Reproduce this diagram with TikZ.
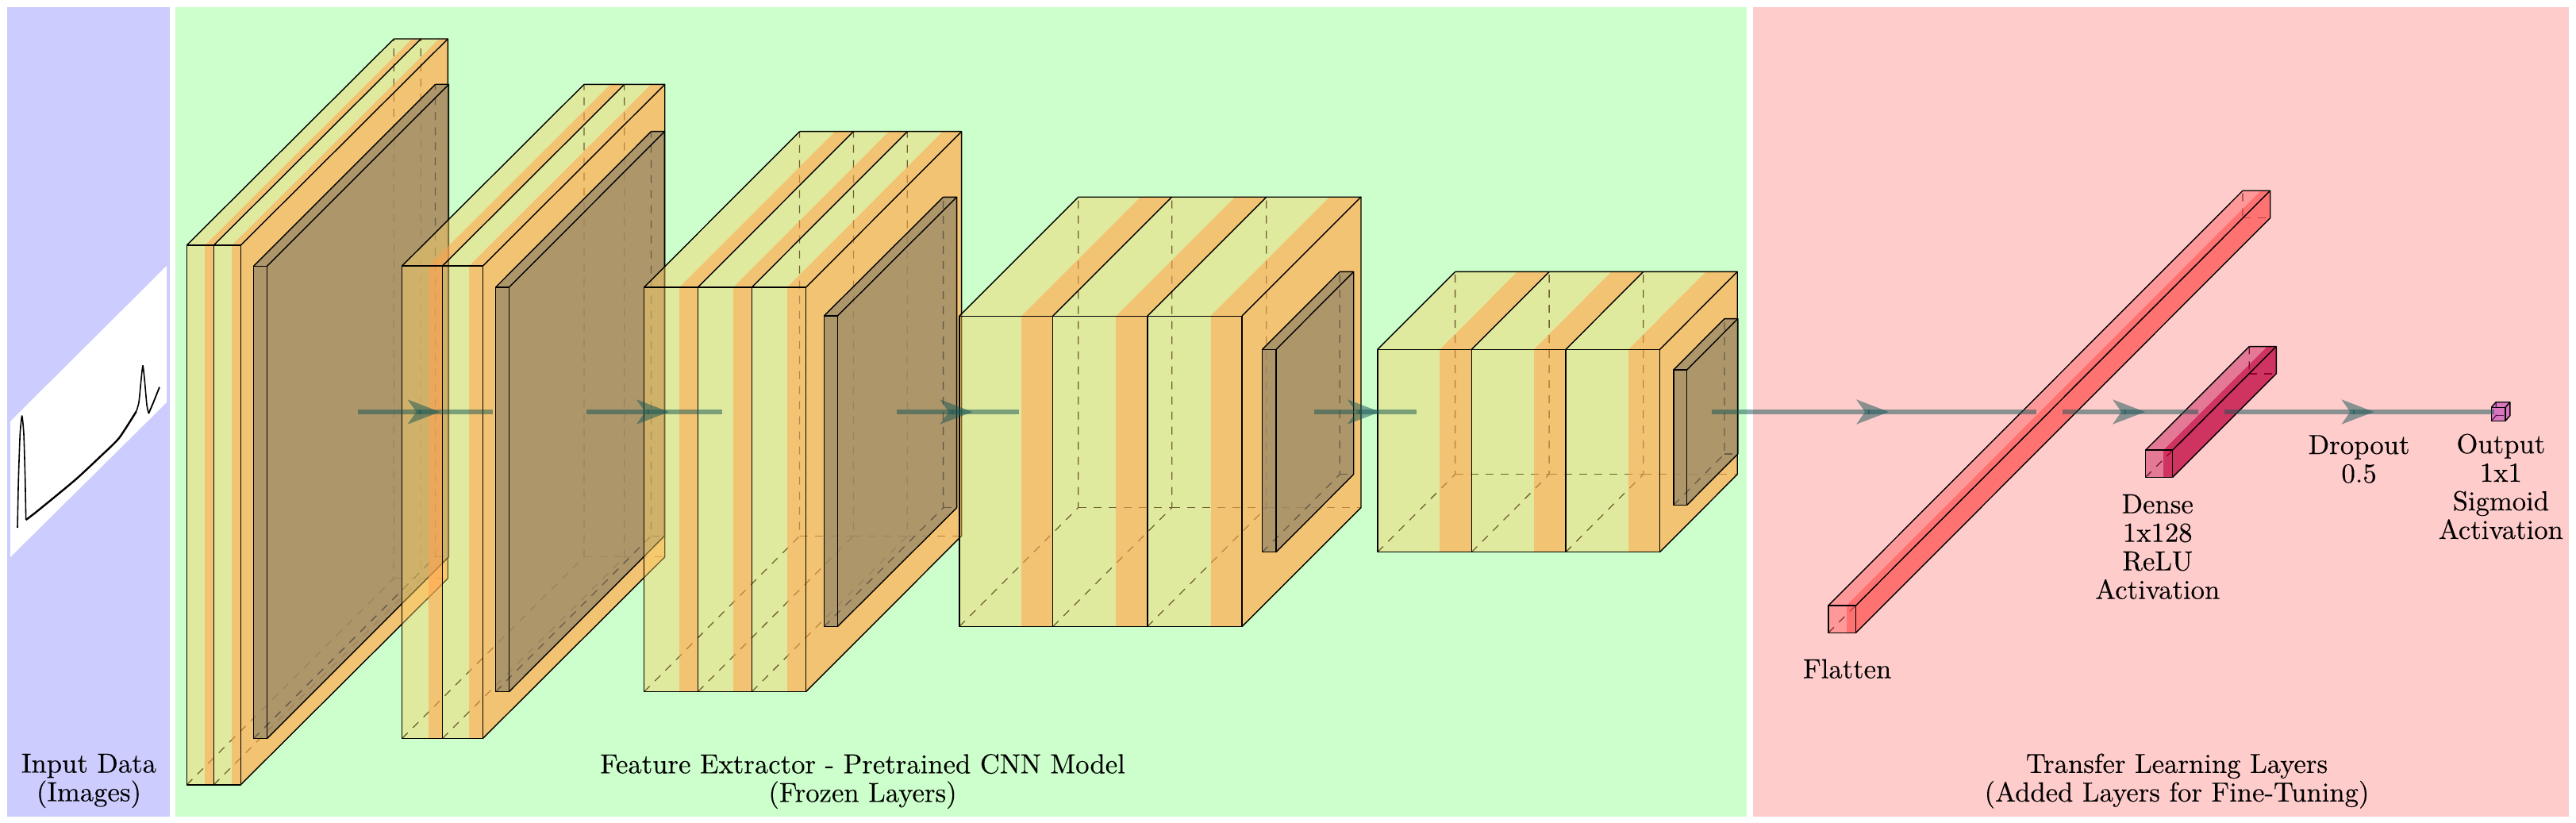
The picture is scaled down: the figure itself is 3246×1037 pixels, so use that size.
\documentclass[tikz,border=0pt]{standalone}
\usepackage{fontspec}
\setmainfont{Latin Modern Roman}[FakeBold=0.18]
\usetikzlibrary{calc}
\definecolor{panelblue}{RGB}{204,204,255}
\definecolor{panelgreen}{RGB}{204,255,204}
\definecolor{panelred}{RGB}{255,204,204}
\definecolor{conncol}{RGB}{21,85,85}
\tikzset{
  panel/.style={draw=none},
  outline/.style={draw=black,line width=0.42pt,line join=round},
  hidden/.style={draw=black,line width=0.38pt,dash pattern=on 3pt off 2.7pt},
  convA/.style={fill={rgb,255:red,250;green,210;blue,105},fill opacity=.45},
  convB/.style={fill={rgb,255:red,255;green,175;blue,85},fill opacity=.75},
  poolA/.style={fill={rgb,255:red,145;green,131;blue,104},fill opacity=.7},
  flatA/.style={fill={rgb,255:red,255;green,102;blue,102},fill opacity=.5},
  flatB/.style={fill={rgb,255:red,255;green,85;blue,85},fill opacity=.75},
  denseA/.style={fill={rgb,255:red,203;green,40;blue,96},fill opacity=.5},
  denseB/.style={fill={rgb,255:red,191;green,0;blue,60},fill opacity=.75},
  outA/.style={fill={rgb,255:red,181;green,36;blue,176},fill opacity=.5},
  lbl/.style={align=center,inner sep=0pt,font=\fontsize{10.4}{10.8}\selectfont},
  conn/.style={draw=conncol,opacity=.5,line width=1.75pt},
  headpic/.pic={
    \fill[conncol,fill opacity=.5] (18.5,0) -- (-22.5,-15.7) -- (-11.5,0) -- (-22.5,15.7) -- cycle;
    \fill[conncol,fill opacity=.5] (-8,-3) rectangle (-6,3);
  }
}
% #1 front style, #2 band style, #3 x/b/xn triples, #4 first x, #5 last x, #6 ytop, #7 ybot, #8 dx, #9 dy
\newcommand{\cubeblock}[9]{
  \foreach \xa/\xb/\xc in {#3}{
    \draw[hidden] (\xa,#7) -- ({\xa+#8},{#7+#9}) -- ({\xa+#8},{#6+#9});
    \draw[hidden] ({\xa+#8},{#7+#9}) -- ({\xc+#8},{#7+#9});
  }
  \foreach \xa/\xb/\xc in {#3}{
    \path[#1] (\xa,#6) rectangle (\xb,#7);
    \path[#2] (\xb,#6) rectangle (\xc,#7);
    \path[#1] (\xa,#6) -- (\xb,#6) -- ({\xb+#8},{#6+#9}) -- ({\xa+#8},{#6+#9}) -- cycle;
    \path[#2] (\xb,#6) -- (\xc,#6) -- ({\xc+#8},{#6+#9}) -- ({\xb+#8},{#6+#9}) -- cycle;
  }
  \path[#2] (#5,#6) -- ({#5+#8},{#6+#9}) -- ({#5+#8},{#7+#9}) -- (#5,#7) -- cycle;
  \foreach \xa/\xb/\xc in {#3}{
    \draw[outline] (\xa,#6) rectangle (\xc,#7);
    \draw[outline] (\xa,#6) -- ({\xa+#8},{#6+#9});
  }
  \draw[outline] ({#4+#8},{#6+#9}) -- ({#5+#8},{#6+#9}) -- ({#5+#8},{#7+#9}) -- (#5,#7);
  \draw[outline] (#5,#6) -- ({#5+#8},{#6+#9});
}
\begin{document}
\begin{tikzpicture}[x=0.3pt,y=-0.3pt]
\useasboundingbox (0,0) rectangle (3246,1037);
% panels
\fill[white] (0,0) rectangle (3246,1037);
\fill[panelblue,panel] (9,9) rectangle (214,1029);
\fill[panelgreen,panel] (221,9) rectangle (2201,1029);
\fill[panelred,panel] (2208.6,9) rectangle (3237,1029);
% input image
\fill[white] (13,531) -- (210,335) -- (210,507) -- (13,702) -- cycle;
\draw[black,line width=0.48pt,line join=round] plot[smooth,tension=.35] coordinates {
 (22,665) (23.3,603) (25.3,547) (27.7,524) (30,547) (31.7,603) (32.7,655)};
\draw[black,line width=0.72pt,line join=round] plot[smooth,tension=.4] coordinates {
 (32.7,655) (43.3,647) (66.7,628) (96.7,603) (126.7,575) (150,552) (171.7,518.5)};
\draw[black,line width=0.48pt,line join=round] plot[smooth,tension=.35] coordinates {
 (171.7,518.5) (175,507) (177.7,480) (180,460.7) (182.3,480) (185,510) (187.3,521)};
\draw[black,line width=0.55pt] (187.3,521) -- (193.3,507) -- (201,487.7);
% block 1
\cubeblock{convA}{convB}{235.3/258.2/269.3,269.3/292.2/303.3}{235.3}{303.3}{309}{988.8}{261}{-260}
\cubeblock{poolA}{poolA}{319.5/336.5/336.5}{319.5}{336.5}{335.3}{930.6}{229}{-229}
% block 2
\cubeblock{convA}{convB}{506.7/540.1/557.6,557.6/591/608.5}{506.7}{608.5}{335}{930.4}{229.2}{-228.6}
\cubeblock{poolA}{poolA}{624.5/641.4/641.4}{624.5}{641.4}{362}{871.6}{196}{-196.3}
% block 3
\cubeblock{convA}{convB}{811.6/856.2/879.4,879.4/924/947.3,947.3/991.9/1015.6}{811.6}{1015.6}{362}{871.6}{196}{-196.3}
\cubeblock{poolA}{poolA}{1038.4/1055.4/1055.4}{1038.4}{1055.4}{398}{789.5}{150.2}{-149.7}
% block 4
\cubeblock{convA}{convB}{1208.8/1287.1/1326.7,1326.7/1406.3/1445.8,1445.8/1525.5/1565}{1208.8}{1565}{398.2}{789.5}{150}{-150}
\cubeblock{poolA}{poolA}{1590.5/1607.9/1607.9}{1590.5}{1607.9}{440.4}{695.7}{97.8}{-98}
% block 5
\cubeblock{convA}{convB}{1735.8/1814.2/1854.3,1854.3/1932.7/1972.9,1972.9/2051.9/2091.4}{1735.8}{2091.4}{440.4}{695.7}{97.8}{-98}
\cubeblock{poolA}{poolA}{2108.8/2125.6/2125.6}{2108.8}{2125.6}{466}{636.4}{64.2}{-64.4}
% dense part
\cubeblock{flatA}{flatB}{2303.8/2326.7/2338.5}{2303.8}{2338.5}{763}{797.4}{522.2}{-522.8}
\cubeblock{denseA}{denseB}{2703.7/2726.3/2737.7}{2703.7}{2737.7}{567}{601.3}{130.6}{-130.4}
\cubeblock{outA}{outA}{3139.3/3157/3157}{3139.3}{3157}{513.3}{530.3}{5.8}{-6.6}
% connector ends
\coordinate (a1s) at (451,519);  \coordinate (a1e) at (621,519);
\coordinate (a2s) at (738.8,519);\coordinate (a2e) at (910,519);
\coordinate (a3s) at (1130,519); \coordinate (a3e) at (1283.8,519);
\coordinate (a4s) at (1656,519); \coordinate (a4e) at (1784.7,519);
\coordinate (a5s) at (2157,519); \coordinate (a5e) at (2566,519);
\coordinate (a6s) at (2599,519); \coordinate (a6e) at (2770,519);
\coordinate (a7s) at (2803,519); \coordinate (a7e) at (3142.7,519);
\foreach \p in {1,...,7}{
  \draw[conn] (a\p s) -- pic[pos=.5]{headpic} (a\p e);
}
% labels
\node[lbl] (tInput) at (112,984) {Input Data\\(Images)};
\node[lbl] (tFeature) at (1087,984.5) {Feature Extractor - Pretrained CNN Model\\(Frozen Layers)};
\node[lbl] (tTransfer) at (2743,984) {Transfer Learning Layers\\(Added Layers for Fine-Tuning)};
\node[lbl] (tFlatten) at (2327.7,842.7) {Flatten};
\node[lbl] (tDense) at (2718.7,689) {Dense\\1x128\\ReLU\\Activation};
\node[lbl] (tDropout) at (2972.6,578.6) {Dropout\\0.5};
\node[lbl] (tOutput) at (3151.3,613) {Output\\1x1\\Sigmoid\\Activation};
\end{tikzpicture}
\end{document}
